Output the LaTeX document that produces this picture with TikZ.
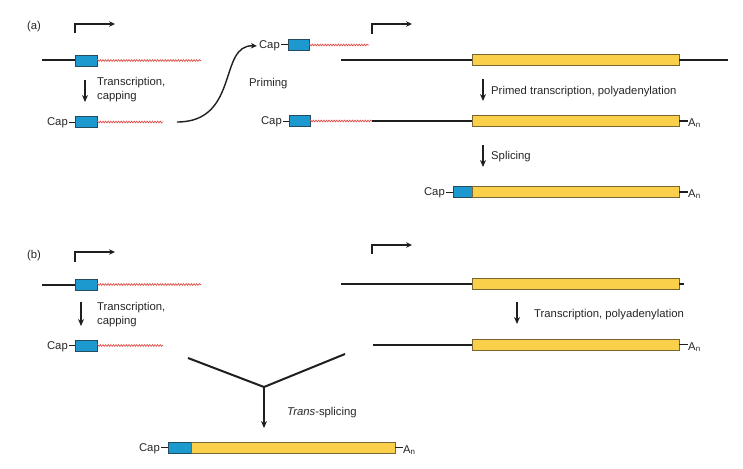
\documentclass[tikz,border=0pt]{standalone}
\usepackage{fontspec}
\setmainfont{Liberation Sans}
\usetikzlibrary{arrows.meta,decorations.pathmorphing}
\definecolor{genblue}{HTML}{1C9AD0}
\definecolor{genblueline}{HTML}{244B5E}
\definecolor{genyellow}{HTML}{FAD04B}
\definecolor{genyellowline}{HTML}{7A6630}
\definecolor{rnared}{HTML}{E0504A}
\tikzset{
  dna/.style={line width=2pt, black!88},
  rna/.style={draw=rnared, line width=0.7pt, decorate, decoration={snake, segment length=2.6pt, amplitude=0.9pt}},
  bluebox/.style={draw=genblueline, fill=genblue, line width=0.7pt, minimum height=11pt, inner sep=0pt, outer sep=0pt},
  ybox/.style={draw=genyellowline, fill=genyellow, line width=0.7pt, minimum height=11pt, inner sep=0pt, outer sep=0pt},
  prom/.style={line width=2.1pt, black!88, -{Stealth[length=6pt,width=5.5pt]}},
  stepar/.style={line width=1.7pt, black!88, -{Stealth[length=7pt,width=6pt]}},
  lbl/.style={font=\fontsize{11.3}{14}\selectfont, text=black!85, inner sep=0pt, align=left},
  capl/.style={lbl, anchor=east, yshift=-1pt},
  tick/.style={line width=1pt, black!88},
  antick/.style={line width=1.8pt, black!88},
}
\begin{document}
\begin{tikzpicture}[x=1pt,y=-1pt]
\useasboundingbox (0,0) rectangle (743,468);

% ================= (a) =================
\node[lbl] (la) at (34,27) {(a)};

% promoters
\coordinate (pa1b) at (75,33); \coordinate (pa1c) at (75,24); \coordinate (pa1e) at (115,24);
\draw[prom] (pa1b) -- (pa1c) -- (pa1e);
\coordinate (pa2b) at (372,34); \coordinate (pa2c) at (372,24); \coordinate (pa2e) at (412,24);
\draw[prom] (pa2b) -- (pa2c) -- (pa2e);

% left gene
\node[bluebox, minimum width=22pt] (a1box) at (86,60.5) {};
\coordinate (a1l) at (42,60.5); \coordinate (a1r) at (201,60.5);
\draw[dna] (a1l) -- (a1box.west);
\draw[rna] (a1box.east) -- (a1r);

\coordinate (a1s) at (85,80); \coordinate (a1t) at (85,102);
\draw[stepar] (a1s) -- (a1t);
\node[lbl, anchor=west] (a1lab) at (97,90) {Transcription,\\capping};

% left SL RNA
\node[capl] (a2cap) at (68,122) {Cap};
\node[bluebox, minimum width=22pt] (a2box) at (86,122) {};
\coordinate (a2r) at (163,122);
\draw[tick] ([xshift=1pt]a2box.west -| a2cap.east) -- (a2box.west);
\draw[rna] (a2box.east) -- (a2r);

% priming curve
\coordinate (cs) at (177,122);
\node[capl] (a3cap) at (280,45) {Cap};
\draw[line width=1.4pt, black!88, -{Stealth[length=6pt,width=5.5pt]}] (cs) .. controls (240,122) and (218,44) .. ([xshift=-2pt]a3cap.west);
\node[bluebox, minimum width=21pt] (a3box) at (298.5,45) {};
\coordinate (a3r) at (369,45);
\draw[tick] ([xshift=1pt]a3box.west -| a3cap.east) -- (a3box.west);
\draw[rna] (a3box.east) -- (a3r);

\node[lbl, anchor=west] (prim) at (249,84) {Priming};

% right gene
\node[ybox, minimum width=207pt] (a4y) at (575.5,60) {};
\coordinate (a4l) at (341,60); \coordinate (a4r) at (728,60);
\draw[dna] (a4l) -- (a4y.west);
\draw[dna] (a4y.east) -- (a4r);

\coordinate (a4s) at (483,79); \coordinate (a4t) at (483,101);
\draw[stepar] (a4s) -- (a4t);
\node[lbl, anchor=west] (a4lab) at (491,92) {Primed transcription, polyadenylation};

% primed transcript
\node[capl] (a5cap) at (282,121) {Cap};
\node[bluebox, minimum width=21pt] (a5box) at (299.5,121) {};
\coordinate (a5w) at (372,121);
\node[ybox, minimum width=207pt] (a5y) at (575.5,121) {};
\draw[tick] ([xshift=1pt]a5box.west -| a5cap.east) -- (a5box.west);
\draw[rna] (a5box.east) -- (a5w);
\draw[dna] (a5w) -- (a5y.west);
\node[lbl, anchor=west] (a5an) at (688,123) {A\textsubscript{n}};
\draw[antick] (a5y.east) -- (a5y.east -| a5an.west);

\coordinate (a6s) at (483,145); \coordinate (a6t) at (483,167);
\draw[stepar] (a6s) -- (a6t);
\node[lbl, anchor=west] (a6lab) at (491,157) {Splicing};

% spliced mRNA
\node[capl] (a7cap) at (445,192) {Cap};
\node[bluebox, minimum width=19pt] (a7box) at (462.5,192) {};
\node[ybox, minimum width=207pt, anchor=west] (a7y) at (a7box.east) {};
\draw[tick] ([xshift=1pt]a7box.west -| a7cap.east) -- (a7box.west);
\node[lbl, anchor=west] (a7an) at (688,194) {A\textsubscript{n}};
\draw[antick] (a7y.east) -- (a7y.east -| a7an.west);

% ================= (b) =================
\node[lbl] (lb) at (34,256) {(b)};

\coordinate (pb1b) at (75,262); \coordinate (pb1c) at (75,252); \coordinate (pb1e) at (115,252);
\draw[prom] (pb1b) -- (pb1c) -- (pb1e);
\coordinate (pb2b) at (372,254); \coordinate (pb2c) at (372,245); \coordinate (pb2e) at (412,245);
\draw[prom] (pb2b) -- (pb2c) -- (pb2e);

% left gene
\node[bluebox, minimum width=22pt] (b1box) at (86,284.5) {};
\coordinate (b1l) at (42,284.5); \coordinate (b1r) at (201,284.5);
\draw[dna] (b1l) -- (b1box.west);
\draw[rna] (b1box.east) -- (b1r);

\coordinate (b1s) at (81,302); \coordinate (b1t) at (81,326);
\draw[stepar] (b1s) -- (b1t);
\node[lbl, anchor=west] (b1lab) at (97,315) {Transcription,\\capping};

\node[capl] (b2cap) at (68,345.5) {Cap};
\node[bluebox, minimum width=22pt] (b2box) at (86,345.5) {};
\coordinate (b2r) at (163,345.5);
\draw[tick] ([xshift=1pt]b2box.west -| b2cap.east) -- (b2box.west);
\draw[rna] (b2box.east) -- (b2r);

% right gene
\node[ybox, minimum width=207pt] (b3y) at (575.5,283.5) {};
\coordinate (b3l) at (341,283.5); \coordinate (b3r) at (684,283.5);
\draw[dna] (b3l) -- (b3y.west);
\draw[dna] (b3y.east) -- (b3r);

\coordinate (b3s) at (517,302); \coordinate (b3t) at (517,324);
\draw[stepar] (b3s) -- (b3t);
\node[lbl, anchor=west] (b3lab) at (534,315) {Transcription, polyadenylation};

\coordinate (b4l) at (373,344.5);
\node[ybox, minimum width=207pt] (b4y) at (575.5,344.5) {};
\draw[dna] (b4l) -- (b4y.west);
\node[lbl, anchor=west] (b4an) at (688,347) {A\textsubscript{n}};
\draw[antick] (b4y.east) -- (b4y.east -| b4an.west);

% V junction
\coordinate (vL) at (188,358); \coordinate (vC) at (264,387); \coordinate (vR) at (345,354);
\coordinate (vD) at (264,428);
\draw[line width=2pt, black!88] (vL) -- (vC) -- (vR);
\draw[stepar] (vC) -- (vD);
\node[lbl, anchor=west] (tslab) at (287,413) {\textit{Trans}-splicing};

% trans-spliced mRNA
\node[capl] (b5cap) at (160,447.5) {Cap};
\node[bluebox, minimum width=23pt] (b5box) at (179.5,447.5) {};
\node[ybox, minimum width=204pt, anchor=west] (b5y) at (b5box.east) {};
\draw[tick] ([xshift=1pt]b5box.west -| b5cap.east) -- (b5box.west);
\node[lbl, anchor=west] (b5an) at (403,450) {A\textsubscript{n}};
\draw[antick] (b5y.east) -- (b5y.east -| b5an.west);

\end{tikzpicture}
\end{document}
